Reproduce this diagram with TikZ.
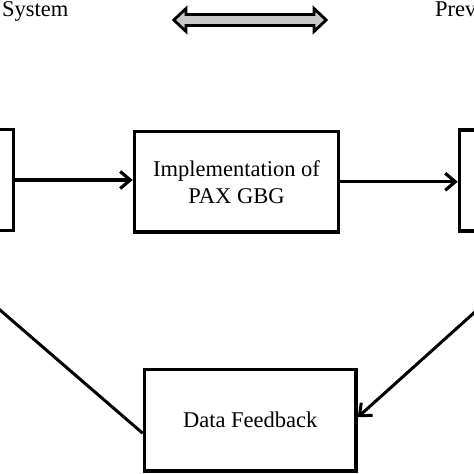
\documentclass[tikz,border=0pt]{standalone}
\usepackage{fontspec}
\setmainfont{Liberation Serif}
\usetikzlibrary{arrows.meta}
\definecolor{arrowgray}{RGB}{200,200,200}
\begin{document}
\begin{tikzpicture}[x=1pt,y=-1pt,
  box/.style={draw, line width=3.6pt, minimum width=204pt, minimum height=101pt, inner sep=0pt, align=center, font=\fontsize{22.5}{27}\selectfont},
  conn/.style={line width=3.2pt, -{Straight Barb[length=10pt,width=17pt,line width=3.2pt]}},
  plain/.style={line width=3pt},
  lbl/.style={font=\fontsize{22.5}{27}\selectfont, inner sep=0pt, anchor=base west}]
\useasboundingbox (0,0) rectangle (474,474);
\fill[white] (0,0) rectangle (474,474);
\node[box, minimum width=207pt] (left) at (-90,180) {};
\node[box, minimum height=100.5pt] (impl) at (236.5,181.75) {Implementation of\\PAX GBG};
\node[box, minimum width=207pt] (right) at (563,180.5) {};
\node[box, minimum width=211.5pt, minimum height=101.5pt] (dfb) at (250.25,420.25) {Data Feedback};
\node[lbl] (sys) at (2,16) {System};
\node[lbl] (prev) at (435,16) {Prev};
\draw[conn] (left.east) -- (left.east -| impl.west);
\draw[conn] (impl.east) -- (impl.east -| right.west);
\draw[plain] (left.south) -- ([yshift=-13pt]dfb.west);
\draw[plain, -{Straight Barb[length=10pt,width=17pt,line width=3pt]}] (right.south) -- ([yshift=3pt]dfb.east);
\draw[line width=2.8pt, fill=arrowgray, line join=miter]
  (173.8,20) -- (186,8.5) -- (186,14.5) -- (314,14.5) -- (314,8.5) -- (326.2,20)
  -- (314,31.5) -- (314,25.5) -- (186,25.5) -- (186,31.5) -- cycle;
\end{tikzpicture}
\end{document}
